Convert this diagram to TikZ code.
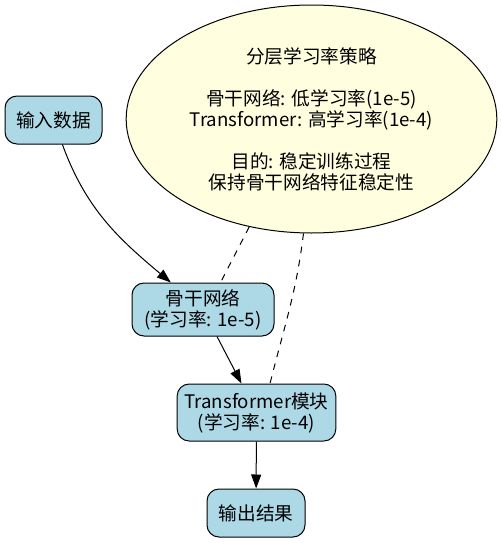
\documentclass[tikz,border=0pt]{standalone}
\usepackage{fontspec}
\setmainfont{Noto Sans CJK SC}
\usepackage{xcolor}
\usetikzlibrary{shapes.geometric}
\usetikzlibrary{arrows.meta}
\definecolor{boxblue}{HTML}{ADD8E6}
\definecolor{noteyellow}{HTML}{FFFFE0}

\begin{document}
\begin{tikzpicture}[x=0.75pt, y=0.75pt,
		every node/.style={font=\fontsize{14}{15.75}\selectfont},
		box/.style={draw, fill=boxblue, rounded corners=9pt, align=center, inner sep=0pt, line width=0.75pt},
		note/.style={draw, fill=noteyellow, ellipse, align=center, inner sep=0pt, line width=0.75pt},
		arr/.style={-{Triangle[length=10.5pt, width=7.5pt]}, line width=0.75pt},
		link/.style={dash pattern=on 5pt off 5pt, line width=0.75pt}]
\useasboundingbox (0,0) rectangle (501,-543);

\node [box, minimum width=72.75pt, minimum height=36pt] (input) at (53.5,-120) {输入数据};
\node [note, minimum width=278pt, minimum height=171pt] (strategy) at (311.5,-119) {分层学习率策略\\[15.75pt]
	骨干网络: 低学习率(1e-5)\\
	Transformer: 高学习率(1e-4)\\[15.75pt]
	目的: 稳定训练过程\\
	保持骨干网络特征稳定性};
\node [box, minimum width=106.5pt, minimum height=39.75pt] (backbone) at (203,-309.5) {骨干网络\\(学习率: 1e-5)};
\node [box, minimum width=119pt, minimum height=42.75pt] (transformer) at (256.5,-412.5) {Transformer模块\\(学习率: 1e-4)};
\node [box, minimum width=73.5pt, minimum height=36pt] (output) at (256,-513) {输出结果};

\draw [arr] (input) to[out=-70, in=140] (backbone);
\draw [arr] (backbone) edge (transformer);
\draw [arr] (transformer) edge (output);

\draw [link] (strategy.240) -- (backbone.57);
\draw [link] (strategy.266) to[out=263, in=76] (transformer.65);
\end{tikzpicture}
\end{document}
